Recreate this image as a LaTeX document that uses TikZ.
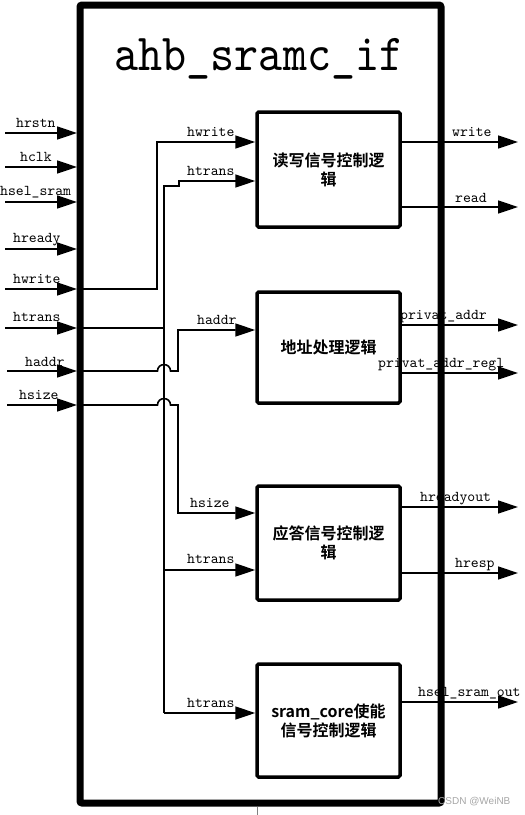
\documentclass[tikz,border=0pt]{standalone}
\usepackage{fontspec}
\usetikzlibrary{arrows.meta}
\newfontfamily\monof{lmmono10-regular.otf}
\newfontfamily\titlef[FakeStretch=0.88]{lmmono10-regular.otf}
\newfontfamily\cjkb{Noto Sans CJK SC Bold}
\newfontfamily\wmf{Liberation Sans}
\pgfdeclarelayer{fg}
\pgfsetlayers{main,fg}
\begin{document}
\begin{tikzpicture}[x=1pt,y=-1pt,
 wire/.style={line width=1.6pt},
 sig/.style={wire,-{Triangle[length=20pt,width=13pt]}},
 blk/.style={draw,line width=3.5pt,rounded corners=1.5pt,minimum width=143pt,inner sep=0pt,
   font=\cjkb\fontsize{16}{19}\selectfont,align=center},
 lbl/.style={anchor=base west,inner sep=0pt,font=\monof\fontsize{15}{15}\selectfont},
]
\useasboundingbox (0,0) rectangle (525,815);
% outer module (border drawn on top layer)
\node[minimum width=361pt,minimum height=798pt,outer sep=0pt,inner sep=0pt] (outer) at (260.5,404) {};
\node[font=\titlef\fontsize{52}{52}\selectfont,anchor=base,inner sep=0pt] (title) at (259,70) {ahb\_sramc\_if};
\coordinate (wl) at (77,0);
% blocks
\node[blk,minimum height=115pt] (b1) at (328.5,169.5) {读写信号控制逻\\辑};
\node[blk,minimum height=111pt] (b2) at (328.5,347.5) {地址处理逻辑};
\node[blk,minimum height=114pt] (b3) at (328.5,543) {应答信号控制逻\\辑};
\node[blk,minimum height=113pt] (b4) at (328.5,720.5) {sram\_core使能\\信号控制逻辑};
% inputs
\coordinate (i1) at (5,133);
\coordinate (i2) at (5,167);
\coordinate (i3) at (5,202);
\coordinate (i4) at (5,249);
\coordinate (i5) at (5,289);
\coordinate (i6) at (5,328);
\coordinate (i7) at (7,371);
\coordinate (i8) at (7,405);
\foreach \c in {i1,i2,i3,i4,i5,i6,i7,i8} \draw[sig] (\c) -- (wl |- \c);
\node[lbl] (l1) at (16,127) {hrstn};
\node[lbl] (l2) at (20,161) {hclk};
\node[lbl] (l3) at (0,195) {hsel\_sram};
\node[lbl] (l4) at (13,242) {hready};
\node[lbl] (l5) at (13,283) {hwrite};
\node[lbl] (l6) at (13,321) {htrans};
\node[lbl] (l7) at (25,366) {haddr};
\node[lbl] (l8) at (19,399) {hsize};
% internal wiring
\coordinate (hw1) at (157,289);
\coordinate (hw2) at (157,142);
\draw[sig] (outer.west |- i5) -- (hw1) -- (hw2) -- (b1.west |- hw2);
\coordinate (ht0) at (164,713);
\coordinate (ht1) at (164,186);
\coordinate (ht2) at (179,186);
\coordinate (ht3) at (179,181);
\draw[sig] (ht0) -- (ht1) -- (ht2) -- (ht3) -- (b1.west |- ht3);
\coordinate (ht6) at (164,328);
\draw[wire] (outer.west |- i6) -- (ht6);
\coordinate (ht7) at (164,570);
\draw[sig] (ht7) -- (b3.west |- ht7);
\draw[sig] (ht0) -- (b4.west |- ht0);
\coordinate (ha1) at (157.5,371);
\coordinate (ha2) at (170.5,371);
\coordinate (ha3) at (178,371);
\coordinate (ha4) at (178,330);
\draw[sig] (outer.west |- i7) -- (ha1) .. controls (157.5,362.5) and (170.5,362.5) .. (ha2) -- (ha3) -- (ha4) -- (b2.west |- ha4);
\coordinate (hs1) at (157.5,405);
\coordinate (hs2) at (170.5,405);
\coordinate (hs3) at (178,405);
\coordinate (hs4) at (178,513);
\draw[sig] (outer.west |- i8) -- (hs1) .. controls (157.5,396.5) and (170.5,396.5) .. (hs2) -- (hs3) -- (hs4) -- (b3.west |- hs4);
\node[lbl] (m1) at (187,136) {hwrite};
\node[lbl] (m2) at (187,175) {htrans};
\node[lbl] (m3) at (197,324) {haddr};
\node[lbl] (m4) at (190,507) {hsize};
\node[lbl] (m5) at (187,563) {htrans};
\node[lbl] (m6) at (187,707) {htrans};
% outputs
\coordinate (o1) at (518,142);
\coordinate (o2) at (518,207);
\coordinate (o3) at (518,325);
\coordinate (o4) at (518,373);
\coordinate (o5) at (518,507);
\coordinate (o6) at (518,573);
\coordinate (o7) at (518,702);
\draw[sig] (b1.east |- o1) -- (o1);
\draw[sig] (b1.east |- o2) -- (o2);
\draw[sig] (b2.east |- o3) -- (o3);
\draw[sig] (b2.east |- o4) -- (o4);
\draw[sig] (b3.east |- o5) -- (o5);
\draw[sig] (b3.east |- o6) -- (o6);
\draw[sig] (b4.east |- o7) -- (o7);
\node[lbl] (p1) at (452,136) {write};
\node[lbl] (p2) at (455,202) {read};
\node[lbl] (p3) at (400,319) {privat\_addr};
\node[lbl] (p4) at (378,367) {privat\_addr\_regl};
\node[lbl] (p5) at (420,501) {hreadyout};
\node[lbl] (p6) at (455,567) {hresp};
\node[lbl] (p7) at (418,696) {hsel\_sram\_out};
\begin{pgfonlayer}{fg}
\draw[line width=7pt,rounded corners=2pt] (outer.north west) rectangle (outer.south east);
\node[anchor=west,inner sep=0pt,text=gray!70,font=\wmf\fontsize{10}{10}\selectfont] (wm) at (438,802) {CSDN @WeiNB};
\end{pgfonlayer}
\coordinate (t1) at (257,807);
\coordinate (t2) at (257,815);
\draw[gray,line width=0.8pt] (t1) -- (t2);
\end{tikzpicture}
\end{document}
